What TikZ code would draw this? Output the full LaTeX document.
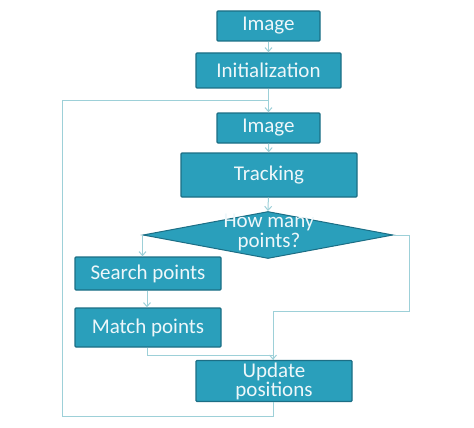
\documentclass[tikz,border=0pt]{standalone}
\usepackage{fontspec}
\setmainfont{Carlito}
\usetikzlibrary{shapes.geometric,arrows.meta}
\definecolor{boxfill}{HTML}{2A9FBB}
\definecolor{boxedge}{HTML}{1C6E85}
\definecolor{linec}{HTML}{9DD0D8}
\definecolor{txt}{HTML}{EEF7FA}
\tikzset{
  box/.style={draw=boxedge, line width=1.4pt, fill=boxfill, rounded corners=1pt, text=txt, font=\fontsize{21}{19}\selectfont, inner sep=0pt, align=center},
  decide/.style={diamond, aspect=5.3, draw=boxedge, line width=1pt, fill=boxfill, inner sep=0pt},
  conn/.style={draw=linec, line width=1pt},
  arr/.style={conn, -{Straight Barb[length=4pt,width=7pt]}}
}
\begin{document}
\begin{tikzpicture}[x=1pt,y=-1pt]
\useasboundingbox (0,0) rectangle (474,428);
\node[box, minimum width=103pt, minimum height=30pt] (img1) at (268.5,26) {Image};
\node[box, minimum width=145pt, minimum height=35pt] (init) at (268.5,70.5) {Initialization};
\node[box, minimum width=103pt, minimum height=30pt] (img2) at (268.5,128) {Image};
\node[box, minimum width=176pt, minimum height=44pt] (track) at (269,175) {Tracking};
\node[decide, minimum width=250pt, minimum height=47pt] (dec) at (268,235) {};
\node[text=txt, font=\fontsize{21}{20}\selectfont, align=center, inner sep=0pt] (dect) at (269,232) {How many\\points?};
\node[box, minimum width=146pt, minimum height=33pt] (search) at (148,273.5) {Search points};
\node[box, minimum width=146pt, minimum height=39pt] (match) at (148,327.5) {Match points};
\node[box, minimum width=156pt, minimum height=41pt] (upd) at (274,381) {Update\\positions};
\coordinate (loopA) at (62,100);
\coordinate (loopB) at (62,416);
\coordinate (rA) at (409,235);
\coordinate (rB) at (409,311);
\coordinate (mB) at (147,355);
\draw[arr] (img1) -- (init);
\draw[arr] (init) -- (img2);
\draw[arr] (img2) -- (track);
\draw[arr] (track) -- (dec.north);
\draw[arr] (dec.west) -- (dec.west |- search.north);
\draw[arr] (search.south -| 147,0) -- (match.north -| 147,0);
\draw[arr] (match.south -| mB) -- (mB) -| (upd.north -| 273,0);
\draw[conn] (dec.east) -- (rA) -- (rB) -| (upd.north -| 273,0);
\draw[conn] (upd.south -| 273,0) |- (loopB) -- (loopA) -- (loopA -| init.south);
\end{tikzpicture}
\end{document}
